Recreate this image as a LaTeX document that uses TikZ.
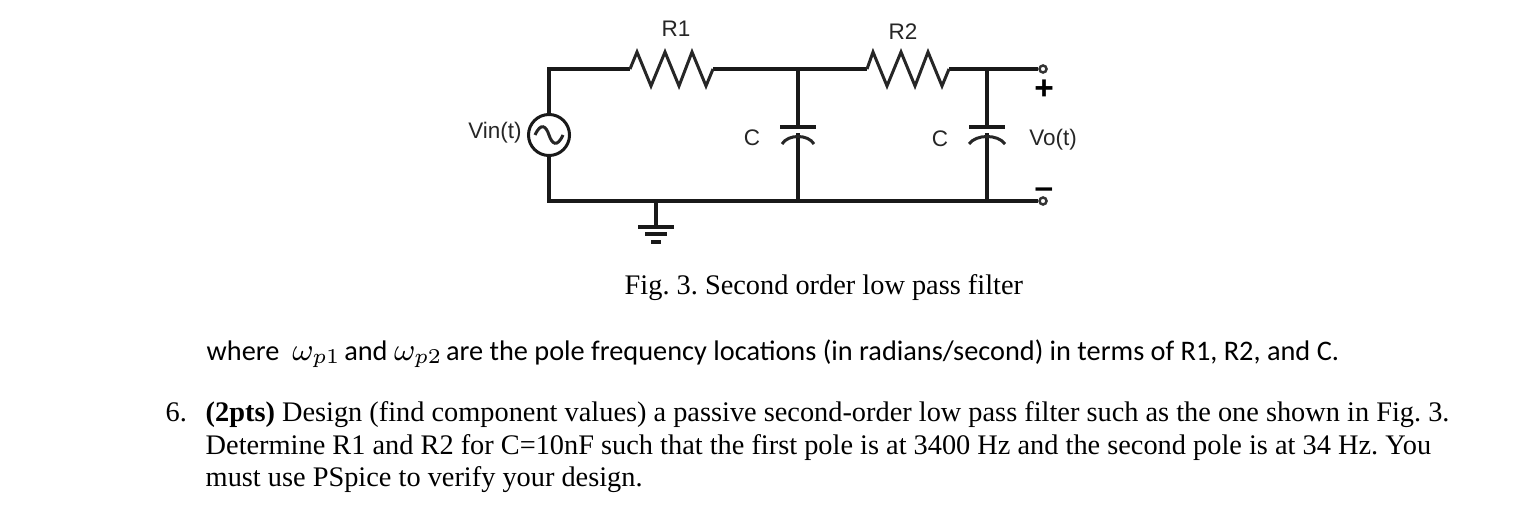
\documentclass[tikz,border=0pt]{standalone}
\usepackage{fontspec, amsmath}
\setmainfont{Liberation Serif}
\newfontfamily\labelfont{Liberation Sans}
\newfontfamily\bodyfont{Carlito}
\tikzset{
  wire/.style={line width=0.038cm,black!90},
  thinwire/.style={line width=0.03cm,black!85},
  cirlabel/.style={font=\labelfont\fontsize{6.4}{7}\selectfont,text=black!85,inner sep=0pt},
  textline/.style={font=\frenchspacing\fontsize{8.06}{9}\selectfont,anchor=base west,inner sep=0pt,text=black},
  wordline/.style={font=\bodyfont\fontsize{8.05}{9}\selectfont,anchor=base west,inner sep=0pt,text=black}
}
\begin{document}
\begin{tikzpicture}[x=0.01cm,y=-0.01cm]
      \useasboundingbox (0,0) rectangle (1522,512);
      % corners and junctions
      \coordinate (TL) at (549,69);
      \coordinate (BL) at (549,201);
      \coordinate (R1a) at (630,69);
      \coordinate (R1b) at (713,69);
      \coordinate (R2a) at (867,69);
      \coordinate (R2b) at (949,69);
      \coordinate (J1) at (798,69);
      \coordinate (J2) at (987,69);
      \coordinate (B1) at (798,201);
      \coordinate (B2) at (987,201);
      \coordinate (G) at (656,201);
      \coordinate (G1) at (656,227);
      \coordinate (C1t) at (798,127);
      \coordinate (C1b) at (798,133);
      \coordinate (C2t) at (987,127);
      \coordinate (C2b) at (987,133);
      % source and output terminals
      \node[shape=circle,draw=black!90,line width=0.03cm,minimum size=0.41cm,inner sep=0pt] (Vs) at (549,135) {};
      \node[shape=circle,draw=black!80,line width=0.025cm,minimum size=0.07cm,inner sep=0pt] (Tp) at (1043,69) {};
      \node[shape=circle,draw=black!80,line width=0.025cm,minimum size=0.07cm,inner sep=0pt] (Tm) at (1043,201) {};
      % labels
      \node[cirlabel] (LR1) at (676,29) {R1};
      \node[cirlabel] (LR2) at (903,32) {R2};
      \node[cirlabel] (LVin) at (495,133) {Vin(t)};
      \node[cirlabel] (LC1) at (752,138) {C};
      \node[cirlabel] (LC2) at (940,139) {C};
      \node[cirlabel] (LVo) at (1053,140) {Vo(t)};
      \node[font=\labelfont\bfseries\fontsize{9.5}{10}\selectfont,inner sep=0pt] (Lp) at (1044,90) {+};
      \node[font=\labelfont\bfseries\fontsize{9.5}{10}\selectfont,inner sep=0pt] (Lm) at (1044,193) {–};
      % wires
      \path[draw,wire]
      (Vs) -- (TL) -- (R1a)
      (R1b) -- (R2a)
      (R2b) -- (Tp)
      (Vs) -- (BL) -- (Tm)
      (J1) -- (C1t)
      (C1b) -- (B1)
      (J2) -- (C2t)
      (C2b) -- (B2)
      (G) -- (G1);
      % resistors
      \draw[thinwire,line join=miter] (R1a) -- (637,52) -- (651,86) -- (665,52) -- (679,86) -- (692,52) -- (706,86) -- (R1b);
      \draw[thinwire,line join=miter] (R2a) -- (873,52) -- (887,86) -- (901,52) -- (915,86) -- (928,52) -- (942,86) -- (R2b);
      % capacitors
      \draw[wire] (780,127) -- (816,127);
      \draw[thinwire] (782,144) .. controls (788,134) and (808,134) .. (814,144);
      \draw[wire] (969,127) -- (1005,127);
      \draw[thinwire] (969,144) .. controls (976,134) and (998,134) .. (1005,144);
      % sine in the source
      \draw[thinwire] (535,135) .. controls (541,122) and (546,126) .. (549,135) .. controls (552,144) and (557,148) .. (563,135);
      % ground
      \draw[wire] (638,227) -- (674,227);
      \draw[wire] (645,234) -- (667,234);
      \draw[wire] (651,242) -- (661,242);
      % text below
      \node[textline] (Cap) at (624,294) {Fig. 3. Second order low pass filter};
      \node[wordline] (Where) at (206,360) {where\ \ {\fontsize{9.2}{10}\selectfont$\omega_{p1}$}\hspace{-0.8pt} and {\fontsize{9.2}{10}\selectfont$\omega_{p2}$}\hspace{-0.8pt} are the pole frequency locations (in radians/second) in terms of R1, R2, and C.};
      \node[textline] (Num) at (165,421) {6.};
      \node[textline] (L1) at (205,421) {\textbf{(2pts)} Design (find component values) a passive second-order low pass filter such as the one shown in Fig. 3.};
      \node[textline] (L2) at (205,454) {Determine R1 and R2 for C=10nF such that the first pole is at 3400 Hz and the second pole is at 34 Hz. You};
      \node[textline] (L3) at (205,486) {must use PSpice to verify your design.};
    \end{tikzpicture}
\end{document}
